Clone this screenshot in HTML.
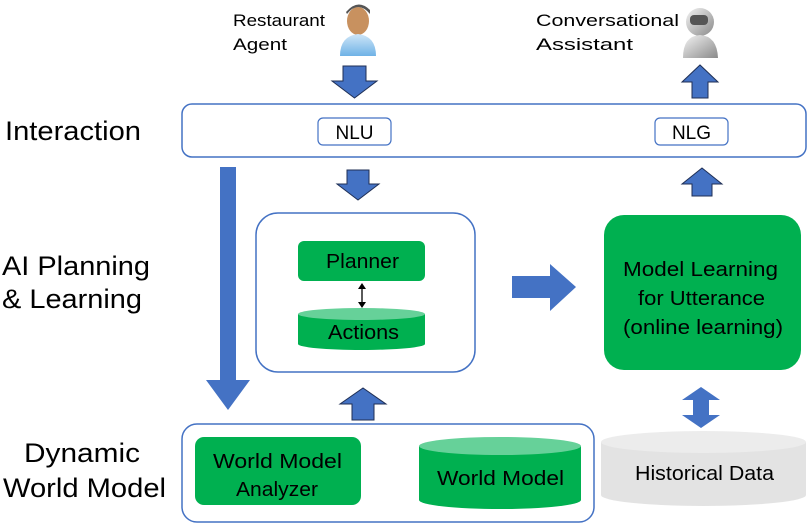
<!DOCTYPE html>
<html><head><meta charset="utf-8"><style>
html,body{margin:0;padding:0;background:#fff;}
svg{display:block;font-family:"Liberation Sans",sans-serif;}
</style></head><body>
<svg width="811" height="526" viewBox="0 0 811 526" xmlns="http://www.w3.org/2000/svg">
<defs>
<linearGradient id="per" x1="0" y1="0" x2="0" y2="1"><stop offset="0" stop-color="#cfe6f8"/><stop offset="1" stop-color="#6fb2e6"/></linearGradient>
<linearGradient id="rob" x1="0" y1="0" x2="1" y2="1"><stop offset="0" stop-color="#f4f4f4"/><stop offset="1" stop-color="#8a8a8a"/></linearGradient>
</defs>
<g font-size="27" fill="#000">
<text x="5" y="140" textLength="136" lengthAdjust="spacingAndGlyphs">Interaction</text>
<text x="2" y="275" textLength="148" lengthAdjust="spacingAndGlyphs">AI Planning</text>
<text x="2" y="308" textLength="140" lengthAdjust="spacingAndGlyphs">&amp; Learning</text>
<text x="24" y="462" textLength="116" lengthAdjust="spacingAndGlyphs">Dynamic</text>
<text x="3" y="497" textLength="163" lengthAdjust="spacingAndGlyphs">World Model</text>
</g>
<g font-size="17" fill="#000">
<text x="233" y="26" textLength="92" lengthAdjust="spacingAndGlyphs">Restaurant</text><text x="233" y="50" textLength="54" lengthAdjust="spacingAndGlyphs">Agent</text>
<text x="536" y="26" textLength="143" lengthAdjust="spacingAndGlyphs">Conversational</text><text x="536" y="50" textLength="97" lengthAdjust="spacingAndGlyphs">Assistant</text>
</g>
<ellipse cx="358" cy="21" rx="11" ry="14" fill="#c8915f"/>
<path d="M347 14 Q358 0 370 14 L370 10 Q358 -2 346 12Z" fill="#555"/>
<path d="M340 56 Q340 36 358 34 Q376 36 376 56Z" fill="url(#per)"/>
<ellipse cx="700" cy="22" rx="14" ry="14" fill="url(#rob)"/>
<rect x="690" y="15" width="18" height="10" rx="4" fill="#555"/>
<path d="M683 58 Q683 36 700 35 Q717 36 718 58Z" fill="url(#rob)"/>
<rect x="182" y="104" width="624" height="53" rx="10" fill="#fff" stroke="#4472c4" stroke-width="1.5"/>
<rect x="318" y="118" width="73" height="27" rx="5" fill="#fff" stroke="#4472c4" stroke-width="1.2"/>
<text x="354.5" y="139" font-size="19" text-anchor="middle">NLU</text>
<rect x="655" y="118" width="73" height="27" rx="5" fill="#fff" stroke="#4472c4" stroke-width="1.2"/>
<text x="691.5" y="139" font-size="19" text-anchor="middle">NLG</text>
<g fill="#4472c4" stroke="#1f2f55" stroke-width="1">
<path d="M343 66 H366 V81 H377 L354.5 98 L332 81 H343Z"/>
<path d="M692 98 H708 V82 H718 L700 65 L682 82 H692Z"/>
<path d="M347 170 H369 V184 H379 L358 200 L337 184 H347Z"/>
<path d="M692 196 H712 V184 H722 L702 168 L682 184 H692Z"/>
<path d="M352 420 H374 V404 H386 L363 388 L340 404 H352Z"/>
</g>
<g fill="#4472c4">
<path d="M220 167 H236 V380 H250 L228 410 L206 380 H220Z"/>
<path d="M512 276 H550 V264 L576 287 L550 311 V298 H512Z"/>
<path d="M701 387 L720 400 H709 V415 H720 L701 428 L682 415 H693 V400 H682Z"/>
<path d="M367 470 L381 455 V464 H398 V455 L412 470 L398 485 V476 H381 V485Z"/>
</g>
<rect x="256" y="213" width="219" height="159" rx="22" fill="#fff" stroke="#4472c4" stroke-width="1.5"/>
<rect x="298" y="241" width="127" height="40" rx="6" fill="#00b050"/>
<text x="326" y="268" font-size="20" textLength="73" lengthAdjust="spacingAndGlyphs">Planner</text>
<line x1="362" y1="286" x2="362" y2="305" stroke="#000" stroke-width="1.3"/>
<path d="M358 289 L362 283 L366 289Z M358 302 L362 308 L366 302Z" fill="#000"/>
<path d="M298 314 V344 A63.5 6 0 0 0 425 344 V314Z" fill="#00b050"/>
<ellipse cx="361.5" cy="314" rx="63.5" ry="6" fill="#66d199"/>
<text x="328" y="339" font-size="20" textLength="71" lengthAdjust="spacingAndGlyphs">Actions</text>
<rect x="604" y="215" width="197" height="155" rx="20" fill="#00b050"/>
<g font-size="20">
<text x="623" y="276" textLength="155" lengthAdjust="spacingAndGlyphs">Model Learning</text>
<text x="638" y="305" textLength="127" lengthAdjust="spacingAndGlyphs">for Utterance</text>
<text x="623" y="334" textLength="160" lengthAdjust="spacingAndGlyphs">(online learning)</text></g>
<path d="M601 442 V495 A102.5 11 0 0 0 806 495 V442Z" fill="#e3e3e3"/>
<ellipse cx="703.5" cy="442" rx="102.5" ry="11" fill="#ececec"/>
<text x="635" y="480" font-size="20" textLength="139" lengthAdjust="spacingAndGlyphs">Historical Data</text>
<rect x="182" y="424" width="412" height="98" rx="15" fill="#fff" stroke="#4472c4" stroke-width="1.5"/>
<rect x="195" y="437" width="166" height="68" rx="9" fill="#00b050"/>
<g font-size="20"><text x="213" y="468" textLength="129" lengthAdjust="spacingAndGlyphs">World Model</text><text x="236" y="496" textLength="82" lengthAdjust="spacingAndGlyphs">Analyzer</text></g>
<path d="M419 446 V500 A81 9 0 0 0 581 500 V446Z" fill="#00b050"/>
<ellipse cx="500" cy="446" rx="81" ry="9" fill="#66d199"/>
<text x="437" y="485" font-size="20" textLength="127" lengthAdjust="spacingAndGlyphs">World Model</text>
</svg>
</body></html>
